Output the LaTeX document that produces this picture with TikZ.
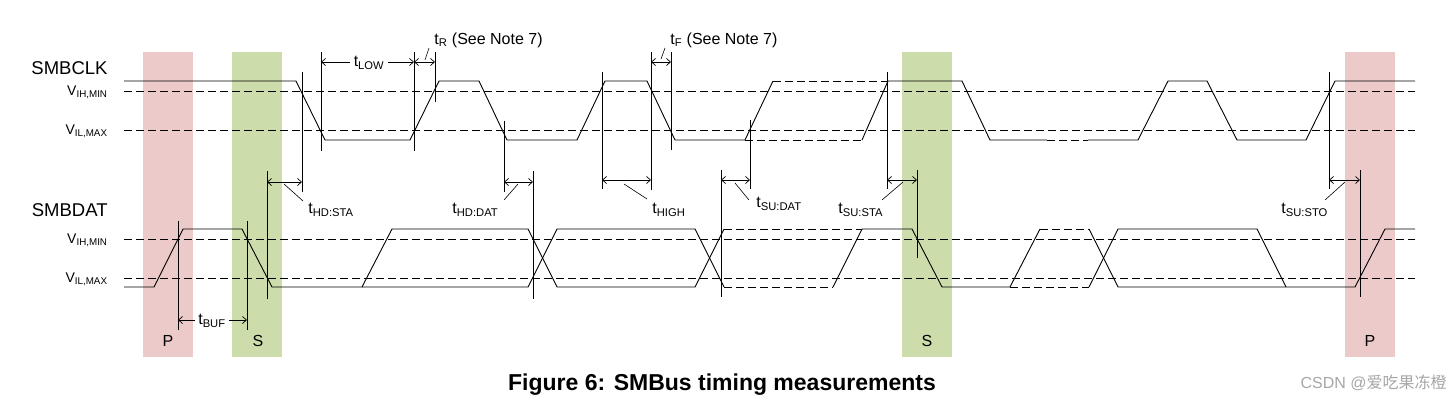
\documentclass[tikz,border=0pt]{standalone}
\usepackage{fontspec}
\setmainfont{Liberation Sans}
\newfontfamily\cjk{Noto Sans CJK SC}
\usetikzlibrary{arrows.meta}
\definecolor{pinkb}{RGB}{236,202,202}
\definecolor{greenb}{RGB}{204,220,170}
\begin{document}
\begin{tikzpicture}[x=1pt,y=-1pt,line width=0.9pt,
  sig/.style={line join=miter},
  dsh/.style={dash pattern=on 8pt off 4pt},
  mk/.style={line width=0.9pt},
  dim/.style={line width=0.7pt,{Straight Barb[length=4pt,width=7pt]}-{Straight Barb[length=4pt,width=7pt]}},
  lbl/.style={font=\fontsize{18.5}{18.5}\selectfont,inner sep=0pt},
  vl/.style={font=\fontsize{14}{14}\selectfont,inner sep=0pt,anchor=east},
  tl/.style={font=\fontsize{16}{16}\selectfont,inner sep=0pt,anchor=west},
  bl/.style={font=\fontsize{16}{16}\selectfont,inner sep=0pt}]
\useasboundingbox (0,0) rectangle (1451,410);
% bands
\fill[pinkb] (143,52) rectangle (193,357);
\fill[pinkb] (1345,52) rectangle (1395,357);
\fill[greenb] (232,52) rectangle (282,357);
\fill[greenb] (902,52) rectangle (952,357);
\node[bl] (p1) at (168,341) {P};
\node[bl] (s1) at (258,341) {S};
\node[bl] (s2) at (927,341) {S};
\node[bl] (p2) at (1370,341) {P};
% labels
\node[lbl,anchor=east] (clk) at (108,68) {SMBCLK};
\node[lbl,anchor=east] (dat) at (108,210) {SMBDAT};
\node[vl] (v1) at (108,92) {V\textsubscript{IH,MIN}};
\node[vl] (v2) at (108,131) {V\textsubscript{IL,MAX}};
\node[vl] (v3) at (108,240) {V\textsubscript{IH,MIN}};
\node[vl] (v4) at (108,279) {V\textsubscript{IL,MAX}};
% threshold lines
\foreach \y in {91,130,239,278} \draw[dsh,line width=0.8pt] (124,\y) -- (1415,\y);
% CLK
\draw[sig] (124,81) -- (296,81) -- (325,140) -- (410,140) -- (439,81) -- (479,81) -- (507,140)
 -- (577,140) -- (605,81) -- (647,81) -- (675,140) -- (745,140) -- (773,81);
\draw[dsh] (773,81) -- (888,81);
\draw[dsh] (745,140) -- (862,140);
\draw[sig] (862,140) -- (888,81) -- (962,81) -- (990,140) -- (1047,140);
\draw[dsh] (1047,140) -- (1088,140);
\draw[sig] (1088,140) -- (1138,140) -- (1168,81) -- (1207,81) -- (1237,140) -- (1306,140) -- (1335,81) -- (1415,81);
% DAT
\draw[sig] (124,287) -- (154,287) -- (183,229) -- (242,229) -- (272,287) -- (362,287) -- (392,229) -- (528,229)
 -- (557,287) -- (695,287) -- (724,229);
\draw[sig] (362,287) -- (528,287) -- (557,229) -- (695,229) -- (724,287);
\draw[dsh] (724,229) -- (862,229);
\draw[dsh] (724,287) -- (833,287);
\draw[sig] (833,287) -- (862,229) -- (912,229) -- (942,287) -- (1010,287) -- (1040,229);
\draw[dsh] (1040,229) -- (1089,229);
\draw[dsh] (1010,287) -- (1089,287);
\draw[sig] (1089,229) -- (1118,287) -- (1355,287) -- (1385,229) -- (1415,229);
\draw[sig] (1089,287) -- (1118,229) -- (1257,229) -- (1286,287);
% markers
\draw[mk] (302,72) -- (302,192);
\draw[mk] (321,52) -- (321,151);
\draw[mk] (414,52) -- (414,151);
\draw[mk] (435,52) -- (435,102);
\draw[mk] (504,121) -- (504,192);
\draw[mk] (533,171) -- (533,299);
\draw[mk] (267,171) -- (267,299);
\draw[mk] (178,221) -- (178,330);
\draw[mk] (247,221) -- (247,330);
\draw[mk] (602,72) -- (602,189);
\draw[mk] (651,52) -- (651,190);
\draw[mk] (671,52) -- (671,150);
\draw[mk] (750,120) -- (750,189);
\draw[mk] (721,170) -- (721,297);
\draw[mk] (887,72) -- (887,189);
\draw[mk] (917,170) -- (917,258);
\draw[mk] (1329,72) -- (1329,189);
\draw[mk] (1360,170) -- (1360,297);
% dimensions
\draw[dim] (321,62) -- (414,62);
\node[tl,anchor=center,fill=white,inner xsep=4pt,inner ysep=1pt] (tlow) at (369,63) {t\textsubscript{LOW}};
\draw[dim] (414,62) -- (435,62);
\node[tl] (tr) at (434,40) {t\textsubscript{R} (See Note 7)};
\draw[line width=0.6pt] (425,60) -- (429,48);
\draw[dim] (651,62) -- (671,62);
\node[tl] (tf) at (670,40) {t\textsubscript{F} (See Note 7)};
\draw[line width=0.6pt] (661,59) -- (665,48);
\draw[dim] (267,182) -- (302,182);
\draw[line width=0.6pt] (284,184) -- (303,201);
\node[tl] (thdsta) at (308,210) {t\textsubscript{HD:STA}};
\draw[dim] (504,182) -- (533,182);
\draw[line width=0.6pt] (518,184) -- (504,200);
\node[tl] (thddat) at (452,210) {t\textsubscript{HD:DAT}};
\draw[dim] (602,180) -- (651,180);
\draw[line width=0.6pt] (624,184) -- (647,199);
\node[tl] (thigh) at (652,210) {t\textsubscript{HIGH}};
\draw[dim] (721,180) -- (750,180);
\draw[line width=0.6pt] (735,183) -- (749,200);
\node[tl] (tsudat) at (756,204) {t\textsubscript{SU:DAT}};
\draw[dim] (887,180) -- (917,180);
\draw[line width=0.6pt] (903,182) -- (882,200);
\node[tl] (tsusta) at (838,210) {t\textsubscript{SU:STA}};
\draw[dim] (1329,180) -- (1360,180);
\draw[line width=0.6pt] (1345,182) -- (1325,200);
\node[tl] (tsusto) at (1281,210) {t\textsubscript{SU:STO}};
\draw[dim] (178,320) -- (247,320);
\node[tl,anchor=center,fill=white,inner xsep=3pt,inner ysep=1pt] (tbuf) at (212,321) {t\textsubscript{BUF}};
% caption
\node[font=\fontsize{23}{23}\selectfont\bfseries,inner sep=0pt] (cap) at (722,385) {Figure 6: SMBus timing measurements};
\node[font=\fontsize{16}{16}\selectfont,text=gray!70,inner sep=0pt,anchor=east] (wm) at (1447,383) {CSDN @{\cjk 爱吃果冻橙}};
\end{tikzpicture}
\end{document}
